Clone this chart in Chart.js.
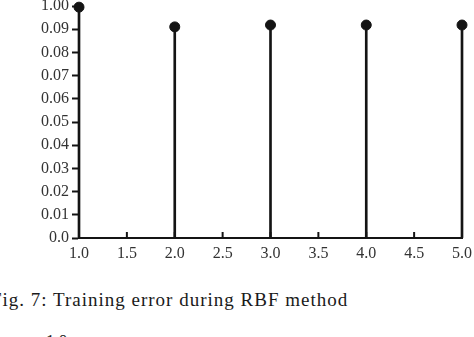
<!DOCTYPE html>
<html lang="en">
<head>
    <meta charset="UTF-8">
    <title>Fig. 7: Training error during RBF method</title>
    <script src="https://cdn.jsdelivr.net/npm/chart.js"></script>
    <style>
        body {
            margin: 0;
            background: #fff;
            overflow: hidden;
        }
        .page {
            position: relative;
            width: 474px;
            height: 337px;
            overflow: hidden;
            font-family: "Liberation Serif", "Times New Roman", serif;
            color: #1a1a1a;
        }
        .chart-box {
            position: absolute;
            left: 0;
            top: 0;
            width: 474px;
            height: 264px;
        }
        .caption {
            position: absolute;
            left: -9px;
            top: 289px;
            font-size: 19px;
            letter-spacing: 1px;
            white-space: nowrap;
        }
        .next {
            position: absolute;
            left: 46px;
            top: 331px;
            font-size: 17px;
        }
    </style>
</head>
<body>
<div class="page">
    <div class="chart-box"><canvas id="errChart"></canvas></div>
    <div class="caption">Fig. 7: Training error during RBF method</div>
    <div class="next">1.0</div>
</div>

<script>
    // training error per iteration
    const iterations = [1, 2, 3, 4, 5];
    const errors = [0.0995, 0.0910, 0.0918, 0.0918, 0.0918];

    const yTicks = [0, 0.01, 0.02, 0.03, 0.04, 0.05, 0.06, 0.07, 0.08, 0.09, 0.1];
    const yTickLabels = ['0.0', '0.01', '0.02', '0.03', '0.04', '0.05', '0.06', '0.07', '0.08', '0.09', '1.00'];
    const xTickLabels = ['1.0', '1.5', '2.0', '2.5', '3.0', '3.5', '4.0', '4.5', '5.0'];

    const ink = '#141414';
    const points = iterations.map((x, i) => ({ x: x, y: errors[i] }));

    // short x ticks pointing up into the plot
    const upTicks = {
        id: 'upTicks',
        afterDatasetsDraw(chart) {
            const xs = chart.scales.x;
            const ctx = chart.ctx;
            const bottom = chart.chartArea.bottom;
            ctx.save();
            ctx.strokeStyle = ink;
            ctx.lineWidth = 2;
            xs.ticks.forEach(t => {
                const px = xs.getPixelForValue(t.value);
                ctx.beginPath();
                ctx.moveTo(px, bottom + 1);
                ctx.lineTo(px, bottom - 6);
                ctx.stroke();
            });
            ctx.restore();
        }
    };

    new Chart(document.getElementById('errChart'), {
        type: 'bar',
        data: {
            datasets: [
                {
                    type: 'scatter',
                    data: points,
                    backgroundColor: ink,
                    borderColor: ink,
                    pointRadius: 5,
                    pointHoverRadius: 5,
                    order: 0
                },
                {
                    type: 'bar',
                    data: points,
                    backgroundColor: ink,
                    barThickness: 2,
                    order: 1
                }
            ]
        },
        options: {
            responsive: true,
            maintainAspectRatio: false,
            animation: false,
            clip: false,
            layout: { padding: { left: 0, top: 5, right: 12, bottom: 0 } },
            plugins: {
                legend: { display: false },
                tooltip: { enabled: false }
            },
            scales: {
                x: {
                    type: 'linear',
                    min: 1,
                    max: 5,
                    offset: false,
                    grid: { display: true, drawOnChartArea: false, drawTicks: false },
                    border: { display: true, color: ink, width: 2 },
                    ticks: {
                        stepSize: 0.5,
                        padding: 6,
                        color: '#333',
                        font: { family: 'Liberation Serif', size: 16 },
                        maxRotation: 0,
                        callback: (v, i) => xTickLabels[i]
                    },
                    afterFit(s) {
                        s.height = 26;
                        s.paddingLeft = 0;
                        s.paddingRight = 0;
                    }
                },
                y: {
                    min: 0,
                    max: 0.1,
                    afterBuildTicks(s) {
                        s.ticks = yTicks.map(v => ({ value: v }));
                    },
                    grid: {
                        display: true,
                        drawOnChartArea: false,
                        drawTicks: true,
                        tickLength: 7,
                        tickWidth: 2,
                        tickColor: ink
                    },
                    border: { display: true, color: ink, width: 2 },
                    ticks: {
                        padding: 3,
                        color: '#333',
                        font: { family: 'Liberation Serif', size: 16 },
                        callback: (v, i) => yTickLabels[i]
                    },
                    afterFit(s) {
                        s.width = 79;
                        s.paddingTop = 0;
                        s.paddingBottom = 0;
                    }
                }
            }
        },
        plugins: [upTicks]
    });
</script>
</body>
</html>
